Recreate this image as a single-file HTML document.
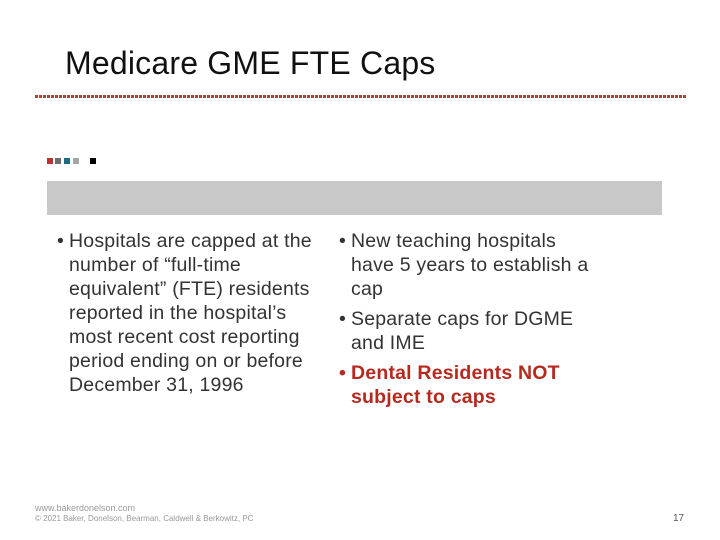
<!DOCTYPE html>
<html><head><style>
body{margin:0;width:720px;height:540px;background:#fff;position:relative;overflow:hidden;font-family:"Liberation Sans",sans-serif;}
.a{position:absolute}
.t{font-size:19.5px;letter-spacing:0.2px;line-height:24px;color:#333}
.li{position:relative;padding-left:12px}
.li:before{content:"•";position:absolute;left:0}
</style></head><body>
<div class="a" style="left:65px;top:45px;font-size:32px;letter-spacing:0.2px;color:#111">Medicare GME FTE Caps</div>
<div class="a" style="left:35px;top:95px;width:651px;height:3px;background:repeating-linear-gradient(90deg,#a5453e 0 3px,transparent 3px 4px)"></div>
<div class="a" style="left:47px;top:158px;width:6px;height:6px;background:#b5372d"></div>
<div class="a" style="left:55px;top:158px;width:6px;height:6px;background:#6d6d6d"></div>
<div class="a" style="left:64px;top:158px;width:6px;height:6px;background:#1e6a80"></div>
<div class="a" style="left:73px;top:158px;width:6px;height:6px;background:#a5a5a5"></div>
<div class="a" style="left:90px;top:158px;width:6px;height:6px;background:#000"></div>
<div class="a" style="left:47px;top:181px;width:615px;height:34px;background:#c8c8c8"></div>
<div class="a t" style="left:57px;top:229px;width:266px">
<div class="li">Hospitals are capped at the number of “full-time equivalent” (FTE) residents reported in the hospital’s most recent cost reporting period ending on or before December 31, 1996</div>
</div>
<div class="a t" style="left:339px;top:229px;width:264px">
<div class="li" style="margin-bottom:6px">New teaching hospitals have 5 years to establish a cap</div>
<div class="li" style="margin-bottom:6px">Separate caps for DGME and IME</div>
<div class="li" style="color:#b52a1f;font-weight:bold">Dental Residents NOT subject to caps</div>
</div>
<div class="a" style="left:35px;top:503px;font-size:9px;color:#999">www.bakerdonelson.com</div>
<div class="a" style="left:35px;top:514px;font-size:8px;color:#999">© 2021 Baker, Donelson, Bearman, Caldwell &amp; Berkowitz, PC</div>
<div class="a" style="left:673px;top:513px;font-size:10px;color:#555">17</div>
</body></html>
